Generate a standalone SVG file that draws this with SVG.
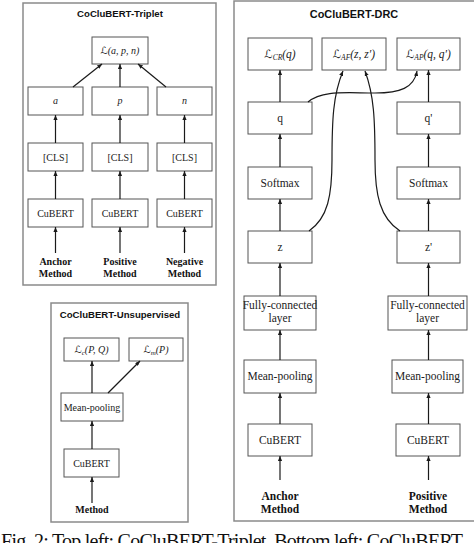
<svg xmlns="http://www.w3.org/2000/svg" width="474" height="543" viewBox="0 0 474 543">
<style>
.panel{fill:#fff;stroke:#8a8a8a;stroke-width:1.5}
.box{fill:#fff;stroke:#555;stroke-width:1}
.t{font-family:"Liberation Serif","Times New Roman",serif;fill:#222;text-anchor:middle}
.m{font-family:"Liberation Serif","DejaVu Serif",serif;font-style:italic;fill:#222;text-anchor:middle}
.L{font-family:"DejaVu Serif","DejaVu Sans",serif;font-style:normal}
.title{font-family:"Liberation Sans",Arial,sans-serif;font-weight:bold;fill:#111;text-anchor:middle}
.lbl{font-family:"Liberation Serif","Times New Roman",serif;font-weight:bold;fill:#111;text-anchor:middle}
.s1{font-size:10px}
.s2{font-size:11.5px}
.cap{font-family:"Liberation Serif","Times New Roman",serif;font-size:20px;fill:#111}
#connectors path,#connectors line{stroke:#1a1a1a;stroke-width:1.2;fill:none;marker-end:url(#ah)}
</style>
<defs>
<marker id="ah" viewBox="0 0 6 5" refX="6" refY="2.5" markerWidth="5" markerHeight="4.2" markerUnits="userSpaceOnUse" orient="auto">
<path d="M0,0 L6,2.5 L0,5 z" fill="#1a1a1a"/>
</marker>
</defs>
<rect width="474" height="543" fill="#fff"/>

<!-- Panels -->
<rect class="panel" x="23" y="3" width="193" height="282"/>
<rect class="panel" x="51" y="303" width="137" height="219"/>
<rect class="panel" x="234" y="1" width="244" height="520"/>
<text class="title" x="120" y="17" font-size="9.6">CoCluBERT-Triplet</text>
<text class="title" x="120" y="318" font-size="9.6">CoCluBERT-Unsupervised</text>
<text class="title" x="354" y="18" font-size="10.9">CoCluBERT-DRC</text>

<!-- Triplet nodes -->
<g id="t-loss"><rect class="box" x="92" y="37" width="56" height="27"/><text class="m s1" x="120" y="54"><tspan class="L">ℒ</tspan>(a, p, n)</text></g>
<g id="t-a"><rect class="box" x="28" y="87" width="55" height="28"/><text class="m s1" x="55.5" y="104">a</text></g>
<g id="t-p"><rect class="box" x="92" y="87" width="56" height="28"/><text class="m s1" x="120" y="104">p</text></g>
<g id="t-n"><rect class="box" x="157" y="87" width="55" height="28"/><text class="m s1" x="184.5" y="104">n</text></g>
<g id="t-cls-a"><rect class="box" x="28" y="143" width="55" height="28"/><text class="t s1" x="55.5" y="160.5">[CLS]</text></g>
<g id="t-cls-p"><rect class="box" x="92" y="143" width="56" height="28"/><text class="t s1" x="120" y="160.5">[CLS]</text></g>
<g id="t-cls-n"><rect class="box" x="157" y="143" width="55" height="28"/><text class="t s1" x="184.5" y="160.5">[CLS]</text></g>
<g id="t-cub-a"><rect class="box" x="28" y="199" width="55" height="28"/><text class="t s1" x="55.5" y="216.5">CuBERT</text></g>
<g id="t-cub-p"><rect class="box" x="92" y="199" width="56" height="28"/><text class="t s1" x="120" y="216.5">CuBERT</text></g>
<g id="t-cub-n"><rect class="box" x="157" y="199" width="55" height="28"/><text class="t s1" x="184.5" y="216.5">CuBERT</text></g>
<g id="t-in-a"><text class="lbl s1" x="55.5" y="265">Anchor</text><text class="lbl s1" x="55.5" y="277">Method</text></g>
<g id="t-in-p"><text class="lbl s1" x="120" y="265">Positive</text><text class="lbl s1" x="120" y="277">Method</text></g>
<g id="t-in-n"><text class="lbl s1" x="184.5" y="265">Negative</text><text class="lbl s1" x="184.5" y="277">Method</text></g>

<!-- Unsupervised nodes -->
<g id="u-lc"><rect class="box" x="64" y="338" width="55" height="23"/><text class="m s1" x="91.5" y="353"><tspan class="L">ℒ</tspan><tspan font-size="7" dy="2">c</tspan><tspan dy="-2">(P, Q)</tspan></text></g>
<g id="u-lm"><rect class="box" x="129" y="338" width="54" height="23"/><text class="m s1" x="156" y="353"><tspan class="L">ℒ</tspan><tspan font-size="7" dy="2">m</tspan><tspan dy="-2">(P)</tspan></text></g>
<g id="u-mean"><rect class="box" x="61" y="393" width="62" height="28"/><text class="t s1" x="92" y="410.5">Mean-pooling</text></g>
<g id="u-cub"><rect class="box" x="64" y="449" width="55" height="28"/><text class="t s1" x="91.5" y="466.5">CuBERT</text></g>
<g id="u-in"><text class="lbl s1" x="92" y="513">Method</text></g>

<!-- DRC nodes -->
<g id="d-lcr"><rect class="box" x="248" y="38" width="64" height="32"/><text class="m s2" x="280" y="58"><tspan class="L">ℒ</tspan><tspan font-size="7.5" dy="2">CR</tspan><tspan dy="-2">(q)</tspan></text></g>
<g id="d-laf"><rect class="box" x="322" y="38" width="64" height="32"/><text class="m s2" x="354" y="58"><tspan class="L">ℒ</tspan><tspan font-size="7.5" dy="2">AF</tspan><tspan dy="-2">(z, z′)</tspan></text></g>
<g id="d-lap"><rect class="box" x="397" y="38" width="63" height="32"/><text class="m s2" x="428.5" y="58"><tspan class="L">ℒ</tspan><tspan font-size="7.5" dy="2">AP</tspan><tspan dy="-2">(q, q′)</tspan></text></g>
<g id="d-q"><rect class="box" x="248" y="102" width="64" height="32"/><text class="t s2" x="280" y="121.5">q</text></g>
<g id="d-q2"><rect class="box" x="397" y="102" width="63" height="32"/><text class="t s2" x="428.5" y="121.5">q'</text></g>
<g id="d-sm"><rect class="box" x="248" y="167" width="64" height="32"/><text class="t s2" x="280" y="187">Softmax</text></g>
<g id="d-sm2"><rect class="box" x="397" y="167" width="63" height="32"/><text class="t s2" x="428.5" y="187">Softmax</text></g>
<g id="d-z"><rect class="box" x="248" y="231" width="64" height="32"/><text class="t s2" x="280" y="251">z</text></g>
<g id="d-z2"><rect class="box" x="397" y="231" width="63" height="32"/><text class="t s2" x="428.5" y="251">z'</text></g>
<g id="d-fc"><rect class="box" x="244" y="296" width="72" height="34"/><text class="t s2" x="280" y="308.5">Fully-connected</text><text class="t s2" x="280" y="322">layer</text></g>
<g id="d-fc2"><rect class="box" x="388" y="296" width="79" height="34"/><text class="t s2" x="427.5" y="308.5">Fully-connected</text><text class="t s2" x="427.5" y="322">layer</text></g>
<g id="d-mean"><rect class="box" x="244" y="360" width="72" height="33"/><text class="t s2" x="280" y="380">Mean-pooling</text></g>
<g id="d-mean2"><rect class="box" x="392" y="360" width="71" height="33"/><text class="t s2" x="427.5" y="380">Mean-pooling</text></g>
<g id="d-cub"><rect class="box" x="248" y="424" width="64" height="32"/><text class="t s2" x="280" y="444">CuBERT</text></g>
<g id="d-cub2"><rect class="box" x="396" y="424" width="64" height="32"/><text class="t s2" x="428" y="444">CuBERT</text></g>
<g id="d-in"><text class="lbl s2" x="280" y="500">Anchor</text><text class="lbl s2" x="280" y="513">Method</text></g>
<g id="d-in2"><text class="lbl s2" x="428" y="500">Positive</text><text class="lbl s2" x="428" y="513">Method</text></g>

<!-- Connectors -->
<g id="connectors">
<line x1="55.5" y1="253" x2="55.5" y2="227"/>
<line x1="120" y1="253" x2="120" y2="227"/>
<line x1="184.5" y1="253" x2="184.5" y2="227"/>
<line x1="55.5" y1="199" x2="55.5" y2="171"/>
<line x1="120" y1="199" x2="120" y2="171"/>
<line x1="184.5" y1="199" x2="184.5" y2="171"/>
<line x1="55.5" y1="143" x2="55.5" y2="115"/>
<line x1="120" y1="143" x2="120" y2="115"/>
<line x1="184.5" y1="143" x2="184.5" y2="115"/>
<line x1="73" y1="87" x2="102" y2="64"/>
<line x1="120" y1="87" x2="120" y2="64"/>
<line x1="166" y1="87" x2="138" y2="64"/>

<line x1="92" y1="503" x2="92" y2="477"/>
<line x1="92" y1="449" x2="92" y2="421"/>
<line x1="92" y1="393" x2="92" y2="361"/>
<line x1="108" y1="393" x2="140" y2="361"/>

<line x1="280" y1="480" x2="280" y2="456"/>
<line x1="280" y1="424" x2="280" y2="393"/>
<line x1="280" y1="360" x2="280" y2="330"/>
<line x1="280" y1="296" x2="280" y2="263"/>
<line x1="280" y1="231" x2="280" y2="199"/>
<line x1="280" y1="167" x2="280" y2="134"/>
<line x1="280" y1="102" x2="280" y2="70"/>
<line x1="428.5" y1="480" x2="428.5" y2="456"/>
<line x1="428.5" y1="424" x2="428.5" y2="393"/>
<line x1="428.5" y1="360" x2="428.5" y2="330"/>
<line x1="428.5" y1="296" x2="428.5" y2="263"/>
<line x1="428.5" y1="231" x2="428.5" y2="199"/>
<line x1="428.5" y1="167" x2="428.5" y2="134"/>
<line x1="428.5" y1="102" x2="428.5" y2="70"/>
<path d="M308,102 C322,90 345,93 375,93 C400,93 414,88 417,71"/>
<path d="M309,231 C328,218 332,195 332,160 C332,120 333,95 343,71"/>
<path d="M400,231 C380,218 375,195 375,160 C375,120 374,95 365,71"/>
</g>

<text class="cap" x="1" y="548" textLength="462" lengthAdjust="spacing">Fig. 2: Top left: CoCluBERT-Triplet. Bottom left: CoCluBERT</text>
</svg>
